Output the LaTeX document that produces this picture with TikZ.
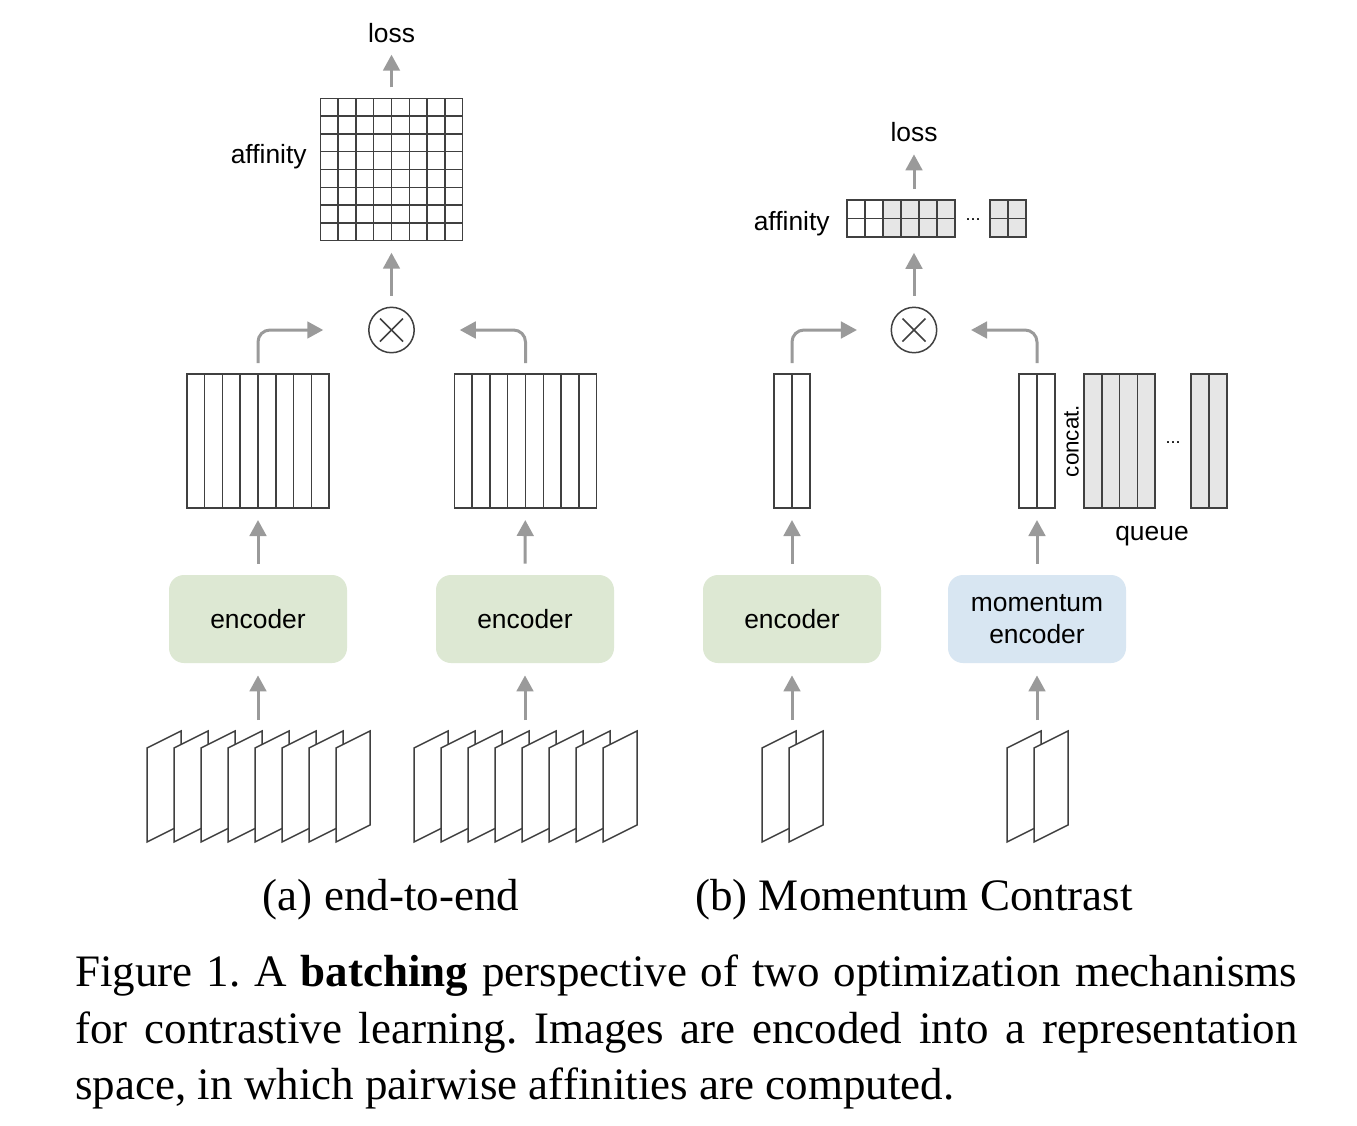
\documentclass[tikz,border=0pt]{standalone}
\usepackage{fontspec}
\setmainfont{Liberation Serif}
\newfontfamily\arial{Liberation Sans}
\usetikzlibrary{arrows.meta,positioning}
\definecolor{enccol}{HTML}{DDE8D3}
\definecolor{momcol}{HTML}{D8E6F2}
\definecolor{quecol}{HTML}{E6E6E6}
\definecolor{arrcol}{HTML}{9A9A9A}
\definecolor{linecol}{HTML}{404040}

\begin{document}
\begin{tikzpicture}[x=0.5pt,y=-0.5pt,
  lbl/.style={font=\arial\fontsize{13.2}{15.8}\selectfont, inner sep=0pt},
  enc/.style={lbl, rounded corners=7.5pt, fill=enccol, minimum width=89pt, minimum height=44pt, align=center},
  arr/.style={draw=arrcol, line width=1.5pt, -{Triangle[width=8.3pt,length=8pt]}, shorten <=5.5pt, shorten >=6pt},
  cell/.style={draw=linecol, line width=0.75pt},
  blk/.style={cell, rectangle, inner sep=0pt, outer sep=0pt},
  img/.style={cell, fill=white},
  captxt/.style={font=\frenchspacing\fontsize{22.5}{28.3}\selectfont, inner sep=0pt}]
\path[fill=white] (0,0) rectangle (1357,1126);
\useasboundingbox (0,0) rectangle (1357,1126);

% (a) end-to-end
\node[lbl, anchor=base] (lossA) at (391.5,42) {loss};
\node[blk, minimum width=71.2pt, minimum height=71.2pt] (affA) at (391.5,169.5) {};
\foreach \i in {1,...,7} {
  \draw[cell] (affA.north west) ++(17.8*\i,0) -- ++(0,142.4);
  \draw[cell] (affA.north west) ++(0,17.8*\i) -- ++(142.4,0);
}
\node[lbl, anchor=base east] (affAl) at (307,163) {affinity};
\node[cell, circle, minimum size=22.7pt, inner sep=0pt] (otA) at (391.5,330) {};
\draw[cell] (otA.center) ++(-11.5,-11.5) -- ++(23,23);
\draw[cell] (otA.center) ++(-11.5,11.5) -- ++(23,-23);

\node[blk, minimum width=71.2pt, minimum height=67pt] (fA) at (258,441) {};
\node[blk, minimum width=71.2pt, minimum height=67pt] (fB) at (525.5,441) {};
\foreach \f in {fA,fB}
  \foreach \i in {1,...,7}
    \draw[cell] (\f.north west) ++(17.8*\i,0) -- ++(0,134);

\node[enc] (encA) at (258,619) {encoder};
\node[enc] (encB) at (525,619) {encoder};

\foreach \x in {0,...,7} {
  \draw[img] (147+27*\x,748) -- ++(34,-17) -- ++(0,94) -- ++(-34,17) -- cycle;
  \draw[img] (414+27*\x,748) -- ++(34,-17) -- ++(0,94) -- ++(-34,17) -- cycle;
}
\coordinate (imA) at (258,731);
\coordinate (imB) at (525,731);

\draw[arr] (imA) -- (encA);
\draw[arr] (imB) -- (encB);
\draw[arr] (encA) -- (fA);
\draw[arr] (encB) -- (fB);
\draw[arr, rounded corners=6pt, shorten >=22.4pt] (fA) |- (otA);
\draw[arr, rounded corners=6pt, shorten >=22.4pt] (fB) |- (otA);
\draw[arr] (otA) -- (affA);
\draw[arr] (affA) -- (lossA);

\node[captxt, anchor=base] (capA) at (391,910) {(a) end-to-end};

% (b) Momentum Contrast
\node[lbl, anchor=base] (lossQ) at (914,141.7) {loss};
\fill[quecol] (883,200.2) rectangle (955,236.8);
\node[blk, minimum width=54pt, minimum height=18.3pt] (affQ) at (901,218.5) {};
\draw[cell] (affQ.west) -- (affQ.east);
\foreach \i in {1,...,5}
  \draw[cell] (affQ.north west) ++(18*\i,0) -- ++(0,36.6);
\node[lbl, font=\arial\fontsize{9}{10}\selectfont, anchor=base] (dotsA) at (973,220) {...};
\node[blk, fill=quecol, minimum width=18pt, minimum height=18.3pt] (affR) at (1008,218.5) {};
\draw[cell] (affR.west) -- (affR.east);
\draw[cell] (affR.north) -- (affR.south);
\node[lbl, anchor=base east] (affQl) at (830,230) {affinity};

\node[cell, circle, minimum size=22.7pt, inner sep=0pt] (otQ) at (914,330) {};
\draw[cell] (otQ.center) ++(-11.5,-11.5) -- ++(23,23);
\draw[cell] (otQ.center) ++(-11.5,11.5) -- ++(23,-23);

\node[blk, minimum width=17.8pt, minimum height=67pt] (fQ) at (792,441) {};
\node[blk, minimum width=17.8pt, minimum height=67pt] (fK) at (1037,441) {};
\draw[cell] (fQ.north) -- (fQ.south);
\draw[cell] (fK.north) -- (fK.south);
\node[lbl, font=\arial\fontsize{11.2}{13}\selectfont, rotate=90] (concat) at (1071.5,441) {concat.};
\node[blk, fill=quecol, minimum width=35.6pt, minimum height=67pt] (qu1) at (1119.6,441) {};
\foreach \i in {1,...,3}
  \draw[cell] (qu1.north west) ++(17.8*\i,0) -- ++(0,134);
\node[lbl, font=\arial\fontsize{9}{10}\selectfont, anchor=base] (dotsQ) at (1173,443) {...};
\node[blk, fill=quecol, minimum width=17.8pt, minimum height=67pt] (qu2) at (1209,441) {};
\draw[cell] (qu2.north) -- (qu2.south);
\node[lbl, anchor=base] (queue) at (1152,540) {queue};

\node[enc] (encQ) at (792,619) {encoder};
\node[enc, fill=momcol] (encK) at (1037,619) {momentum\\encoder};

\foreach \x in {0,1} {
  \draw[img] (762+27*\x,748) -- ++(34,-17) -- ++(0,94) -- ++(-34,17) -- cycle;
  \draw[img] (1007+27*\x,748) -- ++(34,-17) -- ++(0,94) -- ++(-34,17) -- cycle;
}
\coordinate (imQ) at (792,731);
\coordinate (imK) at (1037,731);

\draw[arr] (imQ) -- (encQ);
\draw[arr] (imK) -- (encK);
\draw[arr] (encQ) -- (fQ);
\draw[arr] (encK) -- (fK);
\draw[arr, rounded corners=6pt, shorten >=16.8pt] (fQ) |- (otQ);
\draw[arr, rounded corners=6pt, shorten >=16.8pt] (fK) |- (otQ);
\draw[arr, shorten >=8pt] (otQ) -- (affQ.south -| otQ);
\draw[arr] (affQ.north -| lossQ) -- (lossQ);

\node[captxt, anchor=base] (capB) at (914,910) {(b) Momentum Contrast};

% caption
\node[captxt, anchor=base west, text width=611pt, align=justify] (capFig) at (75,986.7)
  {Figure 1. A \textbf{batching} perspective of two optimization mechanisms
   for contrastive learning. Images are encoded into a representation
   space, in which pairwise affinities are computed.};
\end{tikzpicture}
\end{document}
